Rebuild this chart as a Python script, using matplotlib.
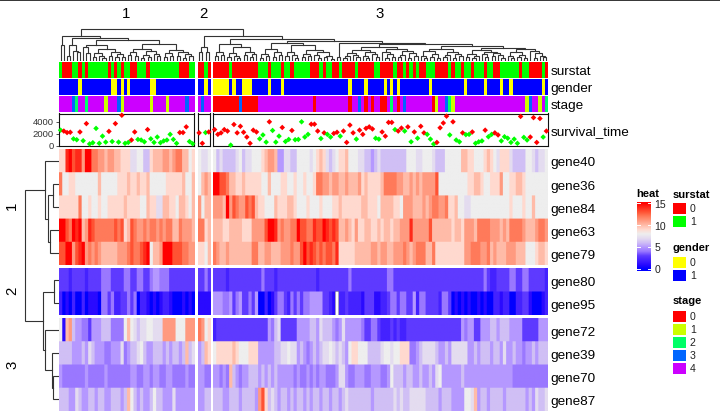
import numpy as np
import matplotlib
matplotlib.use('Agg')
import matplotlib.pyplot as plt
from matplotlib.colors import LinearSegmentedColormap, ListedColormap
from matplotlib.patches import Rectangle

plt.rcParams['font.family'] = ['Liberation Sans', 'DejaVu Sans']

W, H = 720, 418

gene40 = [9,9,14,15,13,14,14,11,15,15,12,12,11,11,10,11,11,10,10,9,9,9,7,7,8,8,6,6,9,10,10,10,11,11,10,11,12,12,10,10,8,9,
          8,7,7,8,
          8,6,7,6,6,6,6,7,8,6,7,7,8,8,8,9,10,11,11,10,5,5,7,7,6,6,8,
          8,8,8,7,8,9,10,9,7,6,7,8,9,9,10,8,8,8,7,7,6,6,5,6,7,6,6,6,6,6,6,6,6,8,8,8,7,7,8,8,8,7,6,6,6,8,8,8,8,8,10,10,9,9,8,8,8,9,10,9,8,7,9,9,9,7,6,6,6,6,8,8,7,6,7,7,8]
gene36 = [12,8,8,9,9,8,8,8,8,8,8,8,10,8,8,8,8,8,9,9,9,10,9,9,10,9,9,10,8,8,8,8,8,9,9,9,9,9,10,8,8,10,
          8,10,11,10,
          15,15,13,13,12,10,10,9,9,10,9,9,9,9,9,8,8,10,8,8,8,9,9,8,8,9,8,
          8,9,8,8,9,12,12,11,11,10,11,11,10,10,11,10,10,10,11,9,10,9,9,9,9,10,12,12,12,12,11,11,10,10,11,10,11,10,11,11,11,11,13,8,8,8,8,8,8,8,8,8,9,9,10,10,9,8,8,9,9,9,11,8,8,9,9,10,10,9,8,8,8,8,8,8,8]
gene84 = [9,9,9,9,9,9,12,8,8,9,8,8,9,8,8,9,9,9,9,9,10,9,9,9,9,8,8,10,9,9,7,7,10,10,9,9,8,10,10,9,8,10,
          11,8,10,10,
          11,11,11,10,15,11,13,12,11,11,13,12,13,10,9,9,8,8,8,10,9,9,9,10,10,9,8,
          8,8,9,8,8,8,9,8,8,8,9,9,10,9,9,9,9,9,9,10,10,9,9,9,8,10,10,10,10,9,9,8,11,11,11,10,10,10,11,10,11,12,12,11,11,12,9,9,10,8,8,7,7,8,8,8,8,8,8,8,8,8,8,8,8,9,8,8,8,9,8,8,10,8,8,8,8]
gene63 = [15,15,13,12,15,14,15,10,11,14,13,12,12,12,12,12,12,13,12,13,9,10,13,12,11,11,12,11,12,12,11,12,11,12,12,10,10,12,11,11,11,10,
          12,12,9,10,
          10,10,10,9,9,10,10,10,10,9,9,9,11,11,11,11,13,15,15,14,11,12,11,11,12,12,15,
          13,13,12,12,14,13,13,15,14,13,14,13,10,10,11,10,9,11,9,9,10,10,9,9,10,9,10,10,9,10,10,11,11,11,14,11,11,11,11,11,13,10,10,10,10,10,10,9,10,10,9,11,11,11,10,12,12,12,12,11,11,11,10,11,10,12,12,12,12,11,10,10,10,11,12,12,11]
gene79 = [13,13,15,15,11,13,14,15,11,12,11,12,11,10,10,10,10,10,11,11,11,12,13,12,12,13,14,15,8,10,10,11,15,15,15,13,13,13,12,12,11,11,
          9,9,8,10,
          12,11,10,10,11,10,10,10,10,10,10,10,12,12,10,10,11,11,10,10,10,11,11,11,12,11,11,
          13,15,13,14,13,12,13,12,13,13,12,14,9,9,9,9,9,10,10,10,10,10,11,11,10,11,11,10,10,11,11,11,12,11,10,11,12,12,12,10,10,12,9,9,9,9,9,9,9,9,9,11,11,12,12,12,11,11,12,10,11,10,10,10,11,11,11,10,10,10,8,8,8,9,10,10,9]
gene80 = [3,3,3,2,3,3,3,3,2,3,3,3,3,4,4,4,3,3,3,3,4,4,3,3,4,4,3,3,4,5,5,4,4,4,3,3,3,3,3,3,3,3,
          3,3,4,3,
          3,3,3,3,2,3,3,3,3,3,3,3,3,3,3,4,3,3,3,2,3,3,3,3,3,3,3,
          3,3,3,3,3,2,3,3,3,3,3,3,3,3,3,4,3,3,3,3,3,3,3,3,3,3,3,4,4,3,3,3,3,3,3,3,3,3,3,3,3,3,3,3,3,3,3,3,3,3,3,3,3,3,3,3,3,4,3,2,2,3,3,3,3,4,4,3,3,4,4,3,3,3,3,3,2]
gene95 = [2,0,1,0,2,0,0,2,0,1,1,1,0,4,4,3,4,2,2,3,3,4,3,4,0,2,2,1,0,1,0,1,2,2,1,0,0,0,1,0,1,0,
          1,1,1,1,
          5,5,5,4,4,5,3,4,5,3,3,4,3,5,0,0,2,0,1,3,4,4,3,2,4,3,4,
          3,4,4,5,5,5,5,3,3,2,1,np.nan,2,2,3,2,2,2,2,1,3,3,3,1,1,2,2,3,4,4,3,4,4,3,3,5,2,4,4,3,3,3,3,2,4,4,3,0,1,0,1,0,1,0,0,1,0,1,0,0,2,2,1,2,2,0,0,2,2,3,3,1,0,0,0,1,2]
gene72 = [8,1,10,11,6,5,5,4,4,3,5,5,5,6,6,6,4,4,4,4,8,10,8,7,6,7,7,8,8,7,7,7,11,11,11,11,8,8,8,11,11,11,
          12,11,8,9,
          2,3,3,3,3,3,3,3,3,3,3,3,3,3,3,3,3,5,4,6,7,3,3,3,3,3,5,
          5,5,5,6,6,5,7,6,6,6,5,4,5,7,5,5,5,5,5,4,3,3,4,4,3,2,2,2,3,2,3,2,2,3,3,3,3,3,3,3,3,3,3,3,3,3,3,3,3,3,5,4,5,5,3,3,5,5,5,6,6,5,6,6,6,5,5,5,5,3,3,3,3,3,5,5,5]
gene39 = [6,6,6,6,5,5,5,6,5,7,6,5,5,5,4,4,5,5,5,7,4,5,6,6,7,8,6,5,5,6,6,6,5,6,5,6,6,5,6,10,6,7,
          5,6,10,9,
          8,9,9,9,9,9,10,9,8,8,8,9,9,9,5,5,5,5,5,6,6,7,7,8,7,7,5,
          6,5,4,5,6,5,6,7,7,8,7,6,7,6,5,8,9,9,8,8,8,6,6,6,6,7,8,8,7,8,8,9,9,9,4,4,5,6,7,7,7,7,6,5,5,6,5,7,7,7,7,7,5,5,6,5,6,6,6,5,6,6,5,7,5,5,6,5,5,4,5,5,6,5,6,6,6]
gene70 = [5,4,4,4,4,4,4,4,5,4,4,4,4,4,5,4,4,4,4,4,4,4,5,5,4,4,5,5,4,5,5,4,4,5,5,4,4,4,4,5,4,4,
          5,5,4,4,
          5,5,4,5,4,10,6,5,4,5,5,6,6,6,5,6,5,6,5,6,5,5,5,5,5,4,5,
          4,4,5,4,5,4,5,5,4,4,4,5,7,7,5,4,4,5,5,5,4,4,5,5,5,4,4,5,8,6,6,6,5,6,6,5,5,6,5,5,6,5,7,8,5,5,5,5,5,5,6,5,5,5,5,5,5,5,5,5,5,5,5,5,5,5,4,4,4,4,4,4,4,4,4,4,4]
gene87 = [6,6,6,5,5,7,6,5,5,6,6,5,6,6,5,5,6,6,6,5,6,10,8,6,5,6,5,5,6,8,6,6,5,5,5,7,5,5,5,5,5,5,
          5,5,6,6,
          6,6,6,5,5,6,6,6,5,6,6,6,6,5,11,13,9,6,7,6,5,6,6,5,6,5,6,
          6,5,6,5,6,6,5,6,6,5,6,6,5,6,7,6,6,6,6,6,6,6,5,6,6,6,6,6,6,7,6,7,6,6,7,7,7,7,7,6,6,6,6,5,6,6,6,5,5,5,5,8,8,7,10,5,6,6,5,6,6,6,6,5,6,6,6,6,6,6,5,6,5,7,6,6,7]

row_groups = [['gene40', 'gene36', 'gene84', 'gene63', 'gene79'], ['gene80', 'gene95'], ['gene72', 'gene39', 'gene70', 'gene87']]
heat = {'gene40': gene40, 'gene36': gene36, 'gene84': gene84, 'gene63': gene63, 'gene79': gene79, 'gene80': gene80,
        'gene95': gene95, 'gene72': gene72, 'gene39': gene39, 'gene70': gene70, 'gene87': gene87}

col_counts = [42, 4, 104]

surstat = [1,0,0,0,1,1,0,1,0,1,1,1,1,1,1,0,1,0,1,0,1,1,0,0,1,1,1,0,1,1,1,1,1,1,1,1,1,0,0,0,1,1,
           0,0,1,0,
           0,0,0,0,0,1,0,0,0,0,0,0,0,0,1,1,1,0,1,1,1,0,1,1,0,1,1,
           1,1,1,0,0,0,1,0,1,1,0,0,1,0,0,0,0,1,0,0,0,0,0,1,1,0,0,0,0,1,0,0,1,0,1,0,1,0,0,1,1,1,0,0,0,0,1,0,1,1,0,1,1,0,1,1,1,0,1,1,0,0,1,1,1,1,1,1,0,1,1,0,0,0,0,1,0]
survival_time = [2600,2450,2200,2250,1150,1000,2300,830,3700,300,500,2900,400,1600,600,2400,700,3700,600,5100,400,550,950,2300,1050,950,650,2700,1150,550,1450,500,800,950,1900,1050,400,2200,2200,3150,700,330,
                 2150,400,2200,2300,
                 2700,1900,2150,2700,2450,100,3550,2150,3250,2250,1450,400,2600,2300,1150,1800,600,4000,2550,600,1600,3050,700,1050,2550,1000,1050,
                 4000,1450,1900,3600,3600,2450,1200,2150,1900,1450,2050,2250,1600,2450,550,3450,2150,1100,2600,1900,2900,3150,2800,1250,1100,2300,1600,3900,3900,2700,2450,2950,2450,3150,650,2300,1250,3250,2150,1900,1100,280,550,3000,3800,4950,1800,4000,950,650,2150,1850,1900,2300,400,650,800,2600,1500,1900,2150,1800,800,1500,1250,550,1100,400,4900,1400,950,1450,4700,550,4550,1450,2450]
gender_runs = [(1,6),(0,1),(1,9),(0,2),(1,1),(0,1),(1,1),(0,1),(1,6),(0,2),(1,12),
               (1,2),(0,1),(1,1),
               (0,5),(1,1),(0,1),(1,2),(0,3),(1,5),(0,1),(1,3),(0,1),(1,5),
               (1,15),(0,1),(1,4),(0,1),(1,5),(0,1),(1,1),(0,1),(1,1),(0,1),(1,9),(0,1),(1,10),(0,1),(1,5),(0,1),(1,4),(0,1),(1,2),(0,1),(1,9),(0,1),(1,1)]
stage_runs = [(4,4),(3,1),(2,1),(4,2),(2,1),(4,5),(1,1),(4,3),(3,1),(1,1),(4,8),(1,1),(4,4),(1,1),(4,5),(3,1),(4,2),
              (4,1),(3,1),(4,2),
              (0,8),(3,1),(0,5),(4,13),
              (4,4),(0,1),(4,10),(0,1),(4,2),(3,1),(4,1),(0,1),(4,1),(0,1),(4,2),(0,2),(4,1),(2,1),(4,1),(0,1),(4,1),(3,1),(4,8),(0,1),(1,1),(4,2),(3,1),(2,1),(1,1),(4,22),(1,1),(3,1),(4,2),(1,1),(4,1),(2,1)]

# dendrograms: [height, left, right], 0 is a leaf
top_l = [16,[14,0,[8,0,0]],[12,[8,[4,0,0],[5,0,[3,0,0]]],[9,[5,0,0],[7,[4,0,0],[4,0,0]]]]]
top_r = [17,[11.7,[9,[6,0,0],[5,0,0]],[10,[6,[3,0,0],[4,0,0]],[7,0,[5,0,0]]]],[11,[8,[4,0,0],[5,0,0]],[9,[5,0,0],[7,[3,0,0],[5,0,0]]]]]
tree_g1 = [25,[16,0,0],[23.3,[16,[5,0,0],[10,0,[9,0,0]]],[21,top_l,top_r]]]
tree_g2 = [14,[9,0,0],[9,0,0]]
c1 = [17,[9,[5,0,0],[6,0,0]],[14,[8,[4,0,0],[5,0,[3,0,0]]],[9,[6,0,0],[7,[4,0,0],0]]]]
p1 = [18,[12,[7,[3,0,0],[5,0,0]],[9,[4,0,0],[6,0,0]]],[16,[9,[5,0,0],[6,0,[3,0,0]]],[11,[7,[4,0,0],[5,0,0]],[9,[6,0,[3,0,0]],[5,[4,0,0],[2,0,0]]]]]]
n_a = [11,[8,[5,[3,0,0],0],[6,0,[4,0,0]]],[9,[5,0,[3,0,0]],[7,0,[4,0,0]]]]
n_b = [12,[9,0,[7,[3,0,0],[4,0,0]]],[10,[6,[4,0,0],0],[8,[3,0,0],[5,0,0]]]]
n_c = [12,[10,[5,0,[3,0,0]],[7,[4,0,0],[3,0,0]]],[9,[6,[4,0,0],0],[7,[3,0,0],[5,0,0]]]]
n_e = [11,[7,[4,0,0],[5,[3,0,0],0]],[9,[7,0,[4,0,0]],[8,[5,0,0],[6,0,[3,0,0]]]]]
n_f = [12,[9,[5,0,[3,0,0]],[6,[4,0,0],[3,0,0]]],[10,0,[8,[3,0,0],[5,0,[4,0,0]]]]]
p2 = [18,[4,0,0],[16.7,[14,n_a,n_b],[15,n_c,[13,n_e,n_f]]]]
tree_g3 = [22,c1,[20,p1,p2]]
top_tree = [32.3,tree_g1,[25,tree_g2,tree_g3]]
row_tree = [34,[13.7,0,[11.3,[6.3,0,0],[9,0,0]]],[16,[5.5,0,0],[14,0,[7,0,[6.4,0,0]]]]]

heat_cmap = LinearSegmentedColormap.from_list('heat', [
    (0/15, '#0000FF'), (1/15, '#2A0AFF'), (2/15, '#4422FF'), (3/15, '#5E3AFF'), (4/15, '#9A78FF'),
    (5/15, '#B598FF'), (6/15, '#D0BFF5'), (7/15, '#E4DCF0'), (8/15, '#EEEEEE'), (9/15, '#FFD9CF'),
    (10/15, '#FFBBA8'), (11/15, '#FF9A80'), (12/15, '#FF7A5A'), (13/15, '#FF5233'), (15/15, '#FF0000')])
surstat_cmap = ListedColormap(['#FF0000', '#00FF00'])
gender_cmap = ListedColormap(['#FFFF00', '#0000FF'])
stage_cmap = ListedColormap(['#FF0000', '#CCFF00', '#00FF66', '#0066FF', '#CC00FF'])

col_x = [(59, 194.3), (197.5, 210.4), (213, 548)]
row_y = [(149, 265), (268.3, 315), (318.3, 411)]
strip_y = {'surstat': (61.7, 77.7), 'gender': (79, 95), 'stage': (96, 112.3)}

fig = plt.figure(figsize=(W / 100, H / 100), dpi=100)


def panel(x0, x1, y0, y1):
    return fig.add_axes([x0 / W, 1 - y1 / H, (x1 - x0) / W, (y1 - y0) / H])


def label(x, y, s, size=9.7, **kw):
    kw.setdefault('va', 'center')
    fig.text(x / W, 1 - y / H, s, fontsize=size, **kw)


def draw_tree(ax, node, leaves, horizontal):
    # returns (leaf position, height) of the node
    if node == 0:
        return next(leaves), 0
    h, left, right = node
    p1, h1 = draw_tree(ax, left, leaves, horizontal)
    p2, h2 = draw_tree(ax, right, leaves, horizontal)
    xs = [p1, p1, p2, p2]
    ys = [h1, h, h, h2]
    if horizontal:
        ax.plot(xs, ys, color='#333333', lw=0.8, solid_joinstyle='miter')
    else:
        ax.plot(ys, xs, color='#333333', lw=0.8, solid_joinstyle='miter')
    return (p1 + p2) / 2, h


# column positions
starts = np.cumsum([0] + col_counts)
leaf_x = []
for g, (x0, x1) in enumerate(col_x):
    n = col_counts[g]
    leaf_x += list(x0 + (np.arange(n) + 0.5) * (x1 - x0) / n)

# top dendrogram
ax = panel(59, 548, 25, 61)
ax.set_xlim(59, 548)
ax.set_ylim(0, 36)
ax.axis('off')
draw_tree(ax, top_tree, iter(leaf_x), True)

# annotation strips
strips = {'surstat': (np.array(surstat), surstat_cmap, 1),
          'gender': (np.repeat([r[0] for r in gender_runs], [r[1] for r in gender_runs]), gender_cmap, 1),
          'stage': (np.repeat([r[0] for r in stage_runs], [r[1] for r in stage_runs]), stage_cmap, 4)}
for name, (vals, cmap, vmax) in strips.items():
    y0, y1 = strip_y[name]
    for g, (x0, x1) in enumerate(col_x):
        ax = panel(x0, x1, y0, y1)
        ax.imshow(vals[starts[g]:starts[g + 1]].reshape(1, -1), cmap=cmap, vmin=0, vmax=vmax, aspect='auto', interpolation='nearest')
        ax.axis('off')
    label(550.5, (y0 + y1) / 2 + 2, name)

# survival points
status = np.array(surstat)
times = np.array(survival_time)
for g, (x0, x1) in enumerate(col_x):
    ax = panel(x0, x1, 113.5, 146)
    n = col_counts[g]
    ax.set_xlim(0, n)
    ax.set_ylim(-50, 5390)
    t = times[starts[g]:starts[g + 1]]
    s = status[starts[g]:starts[g + 1]]
    ax.scatter(np.arange(n) + 0.5, t, marker='D', s=8, c=np.where(s == 0, '#FF0000', '#00FF00'), linewidths=0, clip_on=False, zorder=3)
    ax.set_xticks([])
    for sp in ax.spines.values():
        sp.set_linewidth(0.8)
        sp.set_color('#111111')
    if g == 0:
        ax.set_yticks([0, 2000, 4000])
        ax.tick_params(axis='y', length=2.2, width=0.6, pad=1.5, labelsize=6.8, labelcolor='#333333', color='#333333')
    else:
        ax.set_yticks([])
label(550.5, 132.2, 'survival_time')

# heatmap bodies, columns softened a little by repeating cells before bilinear drawing
for r, genes in enumerate(row_groups):
    y0, y1 = row_y[r]
    mat = np.array([heat[g] for g in genes], dtype=float)
    for g, (x0, x1) in enumerate(col_x):
        ax = panel(x0, x1, y0, y1)
        part = np.repeat(np.repeat(mat[:, starts[g]:starts[g + 1]], 30, axis=0), 3, axis=1)
        ax.imshow(part, cmap=heat_cmap, vmin=0, vmax=15, aspect='auto', interpolation='bilinear')
        ax.axis('off')
    for i, name in enumerate(genes):
        label(550.5, y0 + (i + 0.5) * (y1 - y0) / len(genes) + 2.8, name)

# row dendrogram
leaf_y = []
for r, genes in enumerate(row_groups):
    y0, y1 = row_y[r]
    leaf_y += list(y0 + (np.arange(len(genes)) + 0.5) * (y1 - y0) / len(genes))
ax = panel(20, 59, 149, 411)
ax.set_xlim(39, 0)
ax.set_ylim(411, 149)
ax.axis('off')
draw_tree(ax, row_tree, iter(leaf_y), False)

# slice titles
for x, s in zip([126, 203, 380], ['1', '2', '3']):
    label(x, 14, s, size=10.8, ha='center')
for y, s in zip([206, 291, 365], ['1', '2', '3']):
    label(12, y, s, size=10.8, ha='center', rotation=90)

# heat legend
label(636.7, 194, 'heat', size=8, fontweight='bold')
ax = panel(636.7, 650.7, 201.7, 271)
ax.imshow(np.linspace(15.4, -0.4, 200).reshape(-1, 1), cmap=heat_cmap, vmin=0, vmax=15, aspect='auto', extent=[0, 1, -0.4, 15.4])
ax.set_xlim(0, 1)
ax.set_ylim(-0.4, 15.4)
ax.axis('off')
for v in [0, 5, 10, 15]:
    ax.plot([0, 0.22], [v, v], color='white', lw=0.7)
    ax.plot([0.78, 1], [v, v], color='white', lw=0.7)
    label(654.5, 270 - v * 4.35, str(v), size=7.6, color='#222222')


def swatches(title, title_y, top, colors, values):
    label(672.7, title_y, title, size=8, fontweight='bold')
    ax = panel(672.5, 687, top, top + 13 * len(colors))
    ax.set_xlim(0, 1)
    ax.set_ylim(len(colors), 0)
    ax.axis('off')
    for i, c in enumerate(colors):
        ax.add_patch(Rectangle((0.05, i + 0.04), 0.9, 0.92, facecolor=c, edgecolor='none'))
        label(690, top + 13 * (i + 0.5) + 0.8, values[i], size=7.6, color='#222222')


swatches('surstat', 194.5, 202, ['#FF0000', '#00FF00'], ['0', '1'])
swatches('gender', 248, 256, ['#FFFF00', '#0000FF'], ['0', '1'])
swatches('stage', 301.5, 310, ['#FF0000', '#CCFF00', '#00FF66', '#0066FF', '#CC00FF'], ['0', '1', '2', '3', '4'])

# dark line along the top edge of the screenshot
fig.add_artist(plt.Line2D([0, 1], [1 - 0.4 / H, 1 - 0.4 / H], color='#333333', lw=0.7))

fig.savefig('out.png', dpi=100)
